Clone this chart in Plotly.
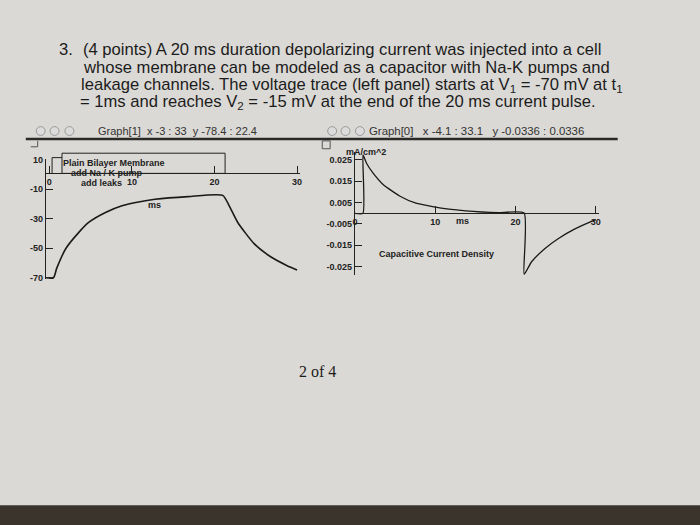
import plotly.graph_objects as go

W, H = 700, 525

# left panel: membrane voltage (mV) against time (ms)
v_time = [-0.4, 0.5, 0.9, 2.0, 3.6, 4.8, 6.8, 8.8, 10.8, 12.8, 16.8, 21.0, 21.8, 22.8, 24.8, 26.8, 28.8, 30.0]
v_mv = [-70, -70, -63.5, -50.2, -39.1, -32.4, -25.8, -21.3, -18.7, -16.9, -15.1, -14.2, -21.5, -32.4, -46.9, -55.8, -61.8, -64.7]

# right panel: capacitive current density (mA/cm^2) against time (ms)
i_time = [0, 1.0, 1.0, 1.44, 2.26, 3.5, 5.56, 7.6, 9.67, 11.7, 13.8, 15.8, 17.9, 21.07, 21.07, 22.0, 23.67, 25.3, 27.4, 29.4, 30.0]
i_dens = [0, 0, 0.0273, 0.0234, 0.0188, 0.0135, 0.0081, 0.0047, 0.0031, 0.0019, 0.0011, 0.0006, 0.0003, 0.0001,
          -0.0285, -0.0227, -0.0165, -0.0119, -0.0073, -0.0039, -0.0030]

v_ticks = [10, -10, -30, -50, -70]
v_ticktext = ["10", "-10", "-30", "-50", "-70"]
i_ticks = [0.025, 0.015, 0.005, -0.005, -0.015, -0.025]
i_ticktext = ["0.025", "0.015", "0.005", "-0.005", "-0.015", "-0.025"]
t_ticks = [0, 10, 20, 30]

question = [
    "(4 points) A 20 ms duration depolarizing current was injected into a cell",
    "whose membrane can be modeled as a capacitor with Na-K pumps and",
    "leakage channels. The voltage trace (left panel) starts at V<sub>1</sub> = -70 mV at t<sub>1</sub>",
    "= 1ms and reaches V<sub>2</sub> = -15 mV at the end of the 20 ms current pulse.",
]


def fx(p):
    return p / W


def fy(p):
    return 1 - p / H


INK = "#222222"
SANS = "Liberation Sans, Arial, sans-serif"
tickfont = dict(family=SANS, size=9, color=INK, weight="bold")

fig = go.Figure()
fig.add_trace(go.Scatter(x=v_time, y=v_mv, mode="lines", xaxis="x", yaxis="y",
                         line=dict(color="#1a1a1a", width=1.6, shape="spline", smoothing=0.6)))
fig.add_trace(go.Scatter(x=i_time, y=i_dens, mode="lines", xaxis="x2", yaxis="y2",
                         line=dict(color="#1a1a1a", width=1.3, shape="spline", smoothing=0.5)))

axis_common = dict(showline=True, linecolor=INK, linewidth=1.2, ticks="inside", ticklen=7,
                   tickcolor=INK, tickwidth=1, showgrid=False, zeroline=False, tickfont=tickfont,
                   fixedrange=True)

fig.update_layout(
    width=W, height=H,
    margin=dict(l=0, r=0, t=0, b=0),
    paper_bgcolor="#dbd9d5",
    plot_bgcolor="rgba(0,0,0,0)",
    showlegend=False,
    xaxis=dict(domain=[fx(43.4), fx(299.1)], range=[-0.4, 30.3], anchor="free", position=fy(172),
               tickvals=t_ticks, **axis_common),
    yaxis=dict(domain=[fy(279.5), fy(157.1)], range=[-71, 10.6], anchor="x",
               tickvals=v_ticks, ticktext=v_ticktext, **axis_common),
    xaxis2=dict(domain=[fx(355), fx(601.2)], range=[0, 30.4], anchor="free", position=fy(212.5),
                tickvals=t_ticks, **axis_common),
    yaxis2=dict(domain=[fy(275.4), fy(150.7)], range=[-0.029, 0.0285], anchor="x2",
                tickvals=i_ticks, ticktext=i_ticktext, **axis_common),
)

ann = []


def label(text, x, y, size=9, bold=True, anchor="left", family=SANS, color=INK, yanchor="middle"):
    ann.append(dict(text=text, x=fx(x), y=fy(y), xref="paper", yref="paper", showarrow=False,
                    xanchor=anchor, yanchor=yanchor, borderpad=0,
                    font=dict(family=family, size=size, color=color, weight="bold" if bold else "normal")))


# question text (top-anchored so the subscripts do not move the lines)
label("3.", 55, 36, size=16.6, bold=False, color="#1c1c1c", yanchor="top")
for line, (lx, ly) in zip(question, [(80, 36), (80, 53.5), (78, 71), (77, 88)]):
    label(line, lx, ly, size=16.6, bold=False, color="#1c1c1c", yanchor="top")

# window title bars
nb = "\u00a0"
label(f"Graph[1]{nb} x -3 : 33{nb} y -78.4 : 22.4", 95, 129, size=11, bold=False, color="#333333")
label(f"Graph[0]{nb*2} x -4.1 : 33.1{nb*2} y -0.0336{nb}:{nb}0.0336", 368, 129, size=11.4, bold=False,
      color="#333333")

# left panel labels
label("Plain Bilayer Membrane", 60, 161)
label("add Na / K pump", 68, 171.5)
label("add leaks", 78, 181.5)
label("ms", 153, 204, anchor="center")

# right panel labels
label("mA/cm^2", 366, 150, anchor="center")
label("ms", 463, 220, anchor="center")
label("Capacitive Current Density", 378, 254)

# page footer
label("2 of 4", 317, 373, size=16, bold=False, anchor="center", family="Liberation Serif, Times New Roman, serif",
      color="#1c1c1c")

fig.update_layout(annotations=ann)

shapes = []
# bottom dark strip (table under the page)
shapes.append(dict(type="rect", xref="paper", yref="paper", x0=-0.01, x1=1.01, y0=-0.05, y1=fy(509),
                   fillcolor="#3b342c", line=dict(width=0), layer="below"))
# window title circles
for cx in [38, 52, 67, 332, 345.5, 360]:
    shapes.append(dict(type="circle", xref="paper", yref="paper", x0=fx(cx - 4.5), x1=fx(cx + 4.5),
                       y0=fy(133.5), y1=fy(124.5), fillcolor="#dcdcdc", line=dict(color="#9a9a9a", width=1)))
# title underline
shapes.append(dict(type="line", xref="paper", yref="paper", x0=fx(23), x1=fx(620), y0=fy(137), y1=fy(137),
                   line=dict(color="#2a2a2a", width=2.5)))
# small corner mark and grow box
shapes.append(dict(type="path", xref="paper", yref="paper",
                   path=f"M {fx(28)},{fy(145)} L {fx(35)},{fy(145)} L {fx(35)},{fy(139)}",
                   line=dict(color="#555555", width=1)))
shapes.append(dict(type="rect", xref="paper", yref="paper", x0=fx(322), x1=fx(330), y0=fy(147), y1=fy(139),
                   line=dict(color="#555555", width=1)))
# control panel boxes on the voltage graph
shapes.append(dict(type="path", xref="paper", yref="paper",
                   path=f"M {fx(49.5)},{fy(172)} L {fx(49.5)},{fy(156)} L {fx(59.5)},{fy(156)}",
                   line=dict(color=INK, width=1)))
shapes.append(dict(type="rect", xref="paper", yref="paper", x0=fx(59.5), x1=fx(224), y0=fy(172), y1=fy(151.5),
                   line=dict(color=INK, width=1)))
fig.update_layout(shapes=shapes)

fig.write_html("out.html", config={"displayModeBar": False},
               post_script="document.body.style.margin='0';document.body.style.overflow='hidden';")
